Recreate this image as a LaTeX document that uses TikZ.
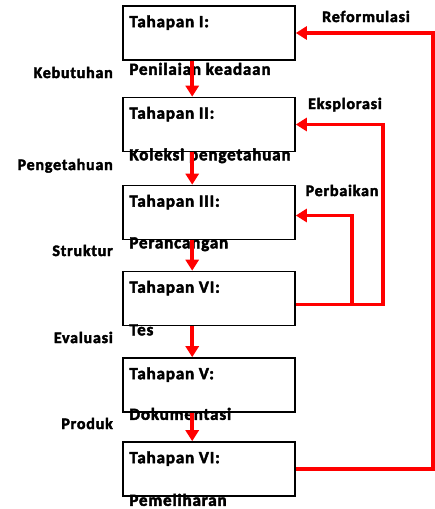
\documentclass[tikz,border=0pt]{standalone}
\usepackage{fontspec}
\setmainfont{Carlito}[BoldFeatures={FakeBold=2.5,LetterSpace=5}]
\usetikzlibrary{arrows.meta,calc}

\tikzset{
  stagebox/.style={draw, line width=1.6pt, minimum width=172pt, minimum height=54pt, inner sep=0pt},
  stagetext/.style={font=\bfseries\fontsize{17}{19}\selectfont, inner sep=0pt, anchor=base west},
  sidetext/.style={font=\bfseries\fontsize{16}{18}\selectfont, inner sep=0pt},
  flow/.style={draw=red, line width=3.5pt, -{Triangle[length=11pt,width=13pt]}},
  loop/.style={draw=red, line width=3.5pt}
}

\begin{document}
\begin{tikzpicture}[x=1pt,y=-1pt]
\useasboundingbox (0,0) rectangle (435,509);
% stages
\foreach \n/\ypos/\low/\title/\what in {1/33/14/Tahapan I:/Penilaian keadaan,
    2/124.5/8/Tahapan II:/Koleksi pengetahuan,
    3/212.5/8/Tahapan III:/Perancangan,
    4/298.5/9/Tahapan VI:/Tes,
    5/385/7/Tahapan V:/Dokumentasi,
    6/469/9/Tahapan VI:/Pemeliharan}
{
  \node[stagebox] (b\n) at (209,\ypos) {};
  \node[stagetext] (t\n) at ([xshift=7pt,yshift=-22pt]b\n.north west) {\title};
  \node[stagetext] (d\n) at ([xshift=7pt,yshift=-\low pt]b\n.south west) {\what};
}
% side labels
\node[sidetext, anchor=base east] (k1) at (113,78) {Kebutuhan};
\node[sidetext, anchor=base east] (k2) at (113,170) {Pengetahuan};
\node[sidetext, anchor=base east] (k3) at (113,256) {Struktur};
\node[sidetext, anchor=base east] (k4) at (113,343) {Evaluasi};
\node[sidetext, anchor=base east] (k5) at (113,429) {Produk};
% down arrows
\foreach \a/\b in {1/2,2/3,3/4,4/5,5/6}
  \draw[flow] ([xshift=70pt]b\a.south west) -- ([xshift=70pt]b\b.north west);
% feedback
\coordinate (r4) at ([yshift=-6pt]b4.east);
\coordinate (p4) at ($(r4)+(56,0)$);
\draw[flow] (b6.east) -- ++(137,0) |- (b1.east);
\draw[flow] (r4) -- ++(87,0) |- (b2.east);
\draw[flow] (p4) |- ([yshift=-3pt]b3.east);
\node[sidetext, anchor=base] (f1) at (366,22) {Reformulasi};
\node[sidetext, anchor=base] (f2) at (345,109) {Eksplorasi};
\node[sidetext, anchor=base] (f3) at (342,196) {Perbaikan};
\end{tikzpicture}
\end{document}
